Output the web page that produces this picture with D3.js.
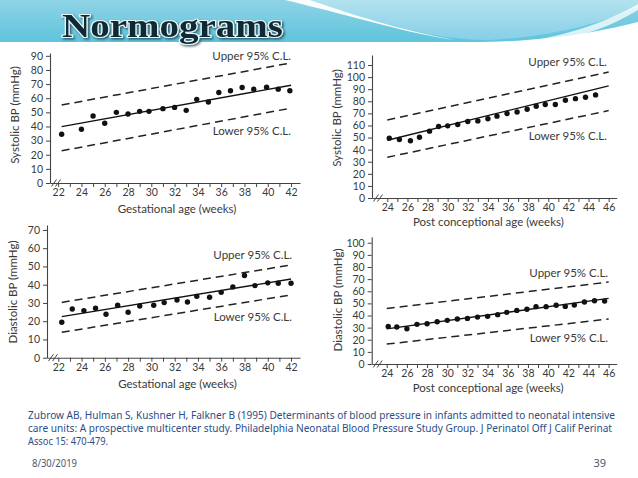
<!DOCTYPE html>
<html>
<head>
<meta charset="utf-8">
<script src="https://cdn.jsdelivr.net/npm/d3@7"></script>
<style>
  html, body { margin: 0; padding: 0; background: #fff; }
  svg { display: block; }
</style>
</head>
<body>
<script>
// ---------- DATA ----------
// Panel 1: Systolic BP vs gestational age
const sysGestX = [22.3, 24, 25, 26, 27, 28, 29, 29.8, 31, 32, 33, 33.9, 34.9, 35.8, 36.8, 37.8, 38.8, 39.9, 40.9, 41.9];
const sysGestY = [34.5, 38, 47.4, 42.3, 50, 48.8, 50.7, 50.7, 52.6, 53.5, 51.4, 59.2, 57.3, 64, 65.3, 67.6, 66.4, 67.8, 66.4, 65.3];
const sysGestLineX = [22.3, 42];
const sysGestMean = [39.9, 69.2];
const sysGestUpper = [55.2, 85];
const sysGestLower = [22.8, 53];

// Panel 2: Systolic BP vs post conceptional age
const sysPcaX = [24.2, 25.2, 26.3, 27.2, 28.2, 29.1, 30, 31, 32, 33, 34, 34.9, 35.9, 36.9, 37.9, 38.8, 39.7, 40.7, 41.7, 42.7, 43.7, 44.7];
const sysPcaY = [49.5, 48.4, 47.3, 50.3, 55.3, 59.1, 59.7, 60.8, 63.3, 63.8, 65.5, 67.7, 69.9, 71.2, 73.4, 75.9, 77.3, 77.3, 80.9, 82.2, 83.3, 85.3];
const sysPcaLineX = [24, 46];
const sysPcaMean = [47.8, 92.7];
const sysPcaUpper = [64.5, 104.2];
const sysPcaLower = [33.7, 72.3];

// Panel 3: Diastolic BP vs gestational age
const diaGestX = [22.3, 23.2, 24.2, 25.2, 26.1, 27.1, 28, 29, 30.2, 31.1, 32.2, 33.1, 33.9, 35, 36, 37, 38, 38.9, 40, 40.9, 42];
const diaGestY = [19.4, 26.7, 25.8, 27.1, 23.8, 28.7, 24.9, 28.3, 28.7, 30.2, 31.6, 30.5, 33.6, 33.1, 35.8, 38.8, 45, 39.5, 41, 40.8, 40.8];
const diaGestLineX = [22.3, 42];
const diaGestMean = [22.5, 43.1];
const diaGestUpper = [30.3, 50.8];
const diaGestLower = [13.9, 34.4];

// Panel 4: Diastolic BP vs post conceptional age
const diaPcaX = [24.15, 25, 26, 27, 28, 29, 30, 31, 32, 33, 34, 35, 35.9, 36.9, 37.9, 38.8, 39.8, 40.8, 41.7, 42.6, 43.6, 44.6, 45.6];
const diaPcaY = [31, 30.5, 29.1, 32.7, 33.2, 34.9, 36, 37.1, 37.6, 38.7, 39.3, 40.7, 42.6, 44.2, 45.1, 47.3, 47.3, 48.4, 47.5, 48.6, 51.1, 52.2, 51.9];
const diaPcaLineX = [24, 46];
const diaPcaMean = [29.0, 54.1];
const diaPcaUpper = [45.8, 67.6];
const diaPcaLower = [16.4, 37.1];

// Tick labels / axis titles
const gestTicks = d3.range(22, 43);
const pcaTicks = d3.range(24, 47);
const sysGestYTicks = d3.range(0, 91, 10);
const sysPcaYTicks = d3.range(0, 111, 10);
const diaGestYTicks = d3.range(0, 71, 10);
const diaPcaYTicks = d3.range(0, 101, 10);
const gestTitle = "Gestational age (weeks)";
const pcaTitle = "Post conceptional age (weeks)";
const sysTitle = "Systolic BP (mmHg)";
const diaTitle = "Diastolic BP (mmHg)";
const upperLabel = "Upper 95% C.L.";
const lowerLabel = "Lower 95% C.L.";

const slideTitle = "Normograms";
const captionLines = [
  "Zubrow AB, Hulman S, Kushner H, Falkner B (1995) Determinants of blood pressure in infants admitted to neonatal intensive",
  "care units: A prospective multicenter study. Philadelphia Neonatal Blood Pressure Study Group. J Perinatol Off J Calif Perinat",
  "Assoc 15: 470-479."
];
const footerDate = "8/30/2019";
const footerPage = "39";

// ---------- DRAW ----------
const W = 638, H = 478;
const svg = d3.select("body").append("svg").attr("width", W).attr("height", H);
const defs = svg.append("defs");

const g1 = defs.append("linearGradient").attr("id", "bannerGrad").attr("x1", 0).attr("y1", 0).attr("x2", 0).attr("y2", 1);
g1.append("stop").attr("offset", "0%").attr("stop-color", "#8fd3e6");
g1.append("stop").attr("offset", "100%").attr("stop-color", "#5ec4dc");
const g2 = defs.append("linearGradient").attr("id", "bannerGrad2").attr("x1", 0).attr("y1", 0).attr("x2", 0).attr("y2", 1);
g2.append("stop").attr("offset", "0%").attr("stop-color", "#b2e2ee");
g2.append("stop").attr("offset", "100%").attr("stop-color", "#86cfe8");

const shadow = defs.append("filter").attr("id", "tshadow").attr("x", "-10%").attr("y", "-30%").attr("width", "130%").attr("height", "170%");
shadow.append("feDropShadow").attr("dx", 1.5).attr("dy", 1.5).attr("stdDeviation", 1).attr("flood-color", "#0a2a33").attr("flood-opacity", 0.7);

svg.append("rect").attr("width", W).attr("height", H).attr("fill", "#fff");

// banner
svg.append("path")
  .attr("d", "M0,0 H638 V22 C590,34 540,42 470,42 L0,42 Z")
  .attr("fill", "url(#bannerGrad)");
svg.append("path")
  .attr("d", "M300,0 H638 V8 C600,22 560,36 490,40 C430,40 390,24 300,0 Z")
  .attr("fill", "url(#bannerGrad2)");
svg.append("path")
  .attr("d", "M285,0 C360,18 410,34 455,40 C400,30 350,14 310,0 Z")
  .attr("fill", "#ffffff").attr("opacity", 0.95);
svg.append("path")
  .attr("d", "M520,42 C570,36 610,20 638,4 V10 C612,26 580,38 540,43 Z")
  .attr("fill", "#ffffff").attr("opacity", 0.75);
svg.append("path")
  .attr("d", "M0,42 H638 V48 H0 Z").attr("fill", "#fff");

svg.append("text")
  .attr("x", 62).attr("y", 37)
  .attr("font-family", "'Liberation Serif', 'DejaVu Serif', serif")
  .attr("font-weight", "bold")
  .attr("font-size", 33)
  .attr("textLength", 221).attr("lengthAdjust", "spacingAndGlyphs")
  .attr("fill", "#0f2b36")
  .attr("stroke", "#eaf6f8").attr("stroke-width", 2.2)
  .attr("paint-order", "stroke")
  .attr("filter", "url(#tshadow)")
  .text(slideTitle);

const FONT = "Lato, 'Open Sans', sans-serif";
const TXT = "#3a3a3a";

function drawPanel(p) {
  const x = d3.scaleLinear().domain(p.xDom).range(p.xRange);
  const y = d3.scaleLinear().domain(p.yDom).range(p.yRange);
  const g = svg.append("g");
  const x0 = p.xRange[0], y0 = p.yRange[0];

  const xAxis = d3.axisBottom(x).tickValues(p.xTicks)
    .tickFormat(d => d % 2 === 0 ? d : "").tickSize(4).tickSizeOuter(0).tickPadding(2);
  const gx = g.append("g").attr("transform", `translate(0,${y0})`).call(xAxis);
  gx.selectAll(".tick text").filter(d => d % 2 !== 0).remove();
  const yAxis = d3.axisLeft(y).tickValues(p.yTicks).tickSize(4).tickSizeOuter(0).tickPadding(3);
  const gy = g.append("g").attr("transform", `translate(${x0},0)`).call(yAxis);
  [gx, gy].forEach(a => {
    a.selectAll("path.domain").attr("stroke", "#444").attr("stroke-width", 1.1);
    a.selectAll(".tick line").attr("stroke", "#444").attr("stroke-width", 1);
    a.selectAll(".tick text").attr("font-family", FONT).attr("font-size", 10.5).attr("fill", TXT);
  });

  // axis break marks
  [4, 8].forEach(dx => {
    g.append("line")
      .attr("x1", x0 + dx - 2.5).attr("y1", y0 + 3.5)
      .attr("x2", x0 + dx + 2.5).attr("y2", y0 - 3.5)
      .attr("stroke", "#444").attr("stroke-width", 1);
  });

  // axis titles
  g.append("text")
    .attr("x", (p.xRange[0] + p.xRange[1]) / 2 + p.xTitleDx).attr("y", p.xTitleY)
    .attr("text-anchor", "middle").attr("font-family", FONT).attr("font-size", 11.5)
    .attr("fill", TXT).text(p.xTitle);
  g.append("text")
    .attr("transform", `translate(${p.yTitleX},${p.yTitleY}) rotate(-90)`)
    .attr("text-anchor", "middle").attr("font-family", FONT).attr("font-size", 11.5)
    .attr("fill", TXT).text(p.yTitle);

  const line = d3.line().x(d => x(d[0])).y(d => y(d[1]));
  const seg = vals => p.lineX.map((v, i) => [v, vals[i]]);
  g.append("path").attr("d", line(seg(p.upper))).attr("fill", "none")
    .attr("stroke", "#222").attr("stroke-width", 1.5).attr("stroke-dasharray", "8,5");
  g.append("path").attr("d", line(seg(p.lower))).attr("fill", "none")
    .attr("stroke", "#222").attr("stroke-width", 1.5).attr("stroke-dasharray", "8,5");
  g.append("path").attr("d", line(seg(p.mean))).attr("fill", "none")
    .attr("stroke", "#111").attr("stroke-width", 1.4);

  g.selectAll("circle.pt").data(p.px.map((v, i) => [v, p.py[i]])).enter()
    .append("circle").attr("class", "pt")
    .attr("cx", d => x(d[0])).attr("cy", d => y(d[1])).attr("r", 2.7).attr("fill", "#111");

  g.append("text").attr("x", p.labelX).attr("y", p.upperLabelY)
    .attr("text-anchor", "end").attr("font-family", FONT).attr("font-size", 11.5)
    .attr("fill", TXT).text(upperLabel);
  g.append("text").attr("x", p.labelX).attr("y", p.lowerLabelY)
    .attr("text-anchor", "end").attr("font-family", FONT).attr("font-size", 11.5)
    .attr("fill", TXT).text(lowerLabel);
}

drawPanel({
  xDom: [21.3, 42.77], xRange: [50, 300], yDom: [0, 92], yRange: [183, 53],
  xTicks: gestTicks, yTicks: sysGestYTicks,
  px: sysGestX, py: sysGestY, lineX: sysGestLineX, mean: sysGestMean, upper: sysGestUpper, lower: sysGestLower,
  xTitle: gestTitle, xTitleY: 213, xTitleDx: 2, yTitle: sysTitle, yTitleX: 19, yTitleY: 115,
  labelX: 291, upperLabelY: 60, lowerLabelY: 135
});
drawPanel({
  xDom: [22.48, 46.8], xRange: [372, 616.7], yDom: [0, 118.3], yRange: [198, 55],
  xTicks: pcaTicks, yTicks: sysPcaYTicks,
  px: sysPcaX, py: sysPcaY, lineX: sysPcaLineX, mean: sysPcaMean, upper: sysPcaUpper, lower: sysPcaLower,
  xTitle: pcaTitle, xTitleY: 226, xTitleDx: -6, yTitle: sysTitle, yTitleX: 341, yTitleY: 118,
  labelX: 607, upperLabelY: 65.5, lowerLabelY: 139.5
});
drawPanel({
  xDom: [21.03, 42.77], xRange: [47, 300], yDom: [0, 72.7], yRange: [357.7, 225],
  xTicks: gestTicks, yTicks: diaGestYTicks,
  px: diaGestX, py: diaGestY, lineX: diaGestLineX, mean: diaGestMean, upper: diaGestUpper, lower: diaGestLower,
  xTitle: gestTitle, xTitleY: 388, xTitleDx: 4, yTitle: diaTitle, yTitleX: 17, yTitleY: 292,
  labelX: 292, upperLabelY: 259, lowerLabelY: 321
});
drawPanel({
  xDom: [22.51, 46.8], xRange: [371.7, 616.7], yDom: [0, 105], yRange: [364, 236.7],
  xTicks: pcaTicks, yTicks: diaPcaYTicks,
  px: diaPcaX, py: diaPcaY, lineX: diaPcaLineX, mean: diaPcaMean, upper: diaPcaUpper, lower: diaPcaLower,
  xTitle: pcaTitle, xTitleY: 392, xTitleDx: -6, yTitle: diaTitle, yTitleX: 342, yTitleY: 300,
  labelX: 608, upperLabelY: 277, lowerLabelY: 342
});

// caption
const capFont = "'Noto Sans', Lato, sans-serif";
const capY = [415, 428, 441];
const capLen = [587, 584, 80];
captionLines.forEach((t, i) => {
  svg.append("text").attr("x", 28).attr("y", capY[i] + 3.5)
    .attr("font-family", capFont).attr("font-size", 10.5)
    .attr("textLength", capLen[i]).attr("lengthAdjust", "spacingAndGlyphs")
    .attr("fill", "#2c4e86").text(t);
});
svg.append("text").attr("x", 32).attr("y", 467)
  .attr("font-family", capFont).attr("font-size", 11)
  .attr("textLength", 45).attr("lengthAdjust", "spacingAndGlyphs")
  .attr("fill", "#4b5873").text(footerDate);
svg.append("text").attr("x", 606).attr("y", 467).attr("text-anchor", "end")
  .attr("font-family", capFont).attr("font-size", 11)
  .attr("fill", "#4b5873").text(footerPage);
</script>
</body>
</html>
